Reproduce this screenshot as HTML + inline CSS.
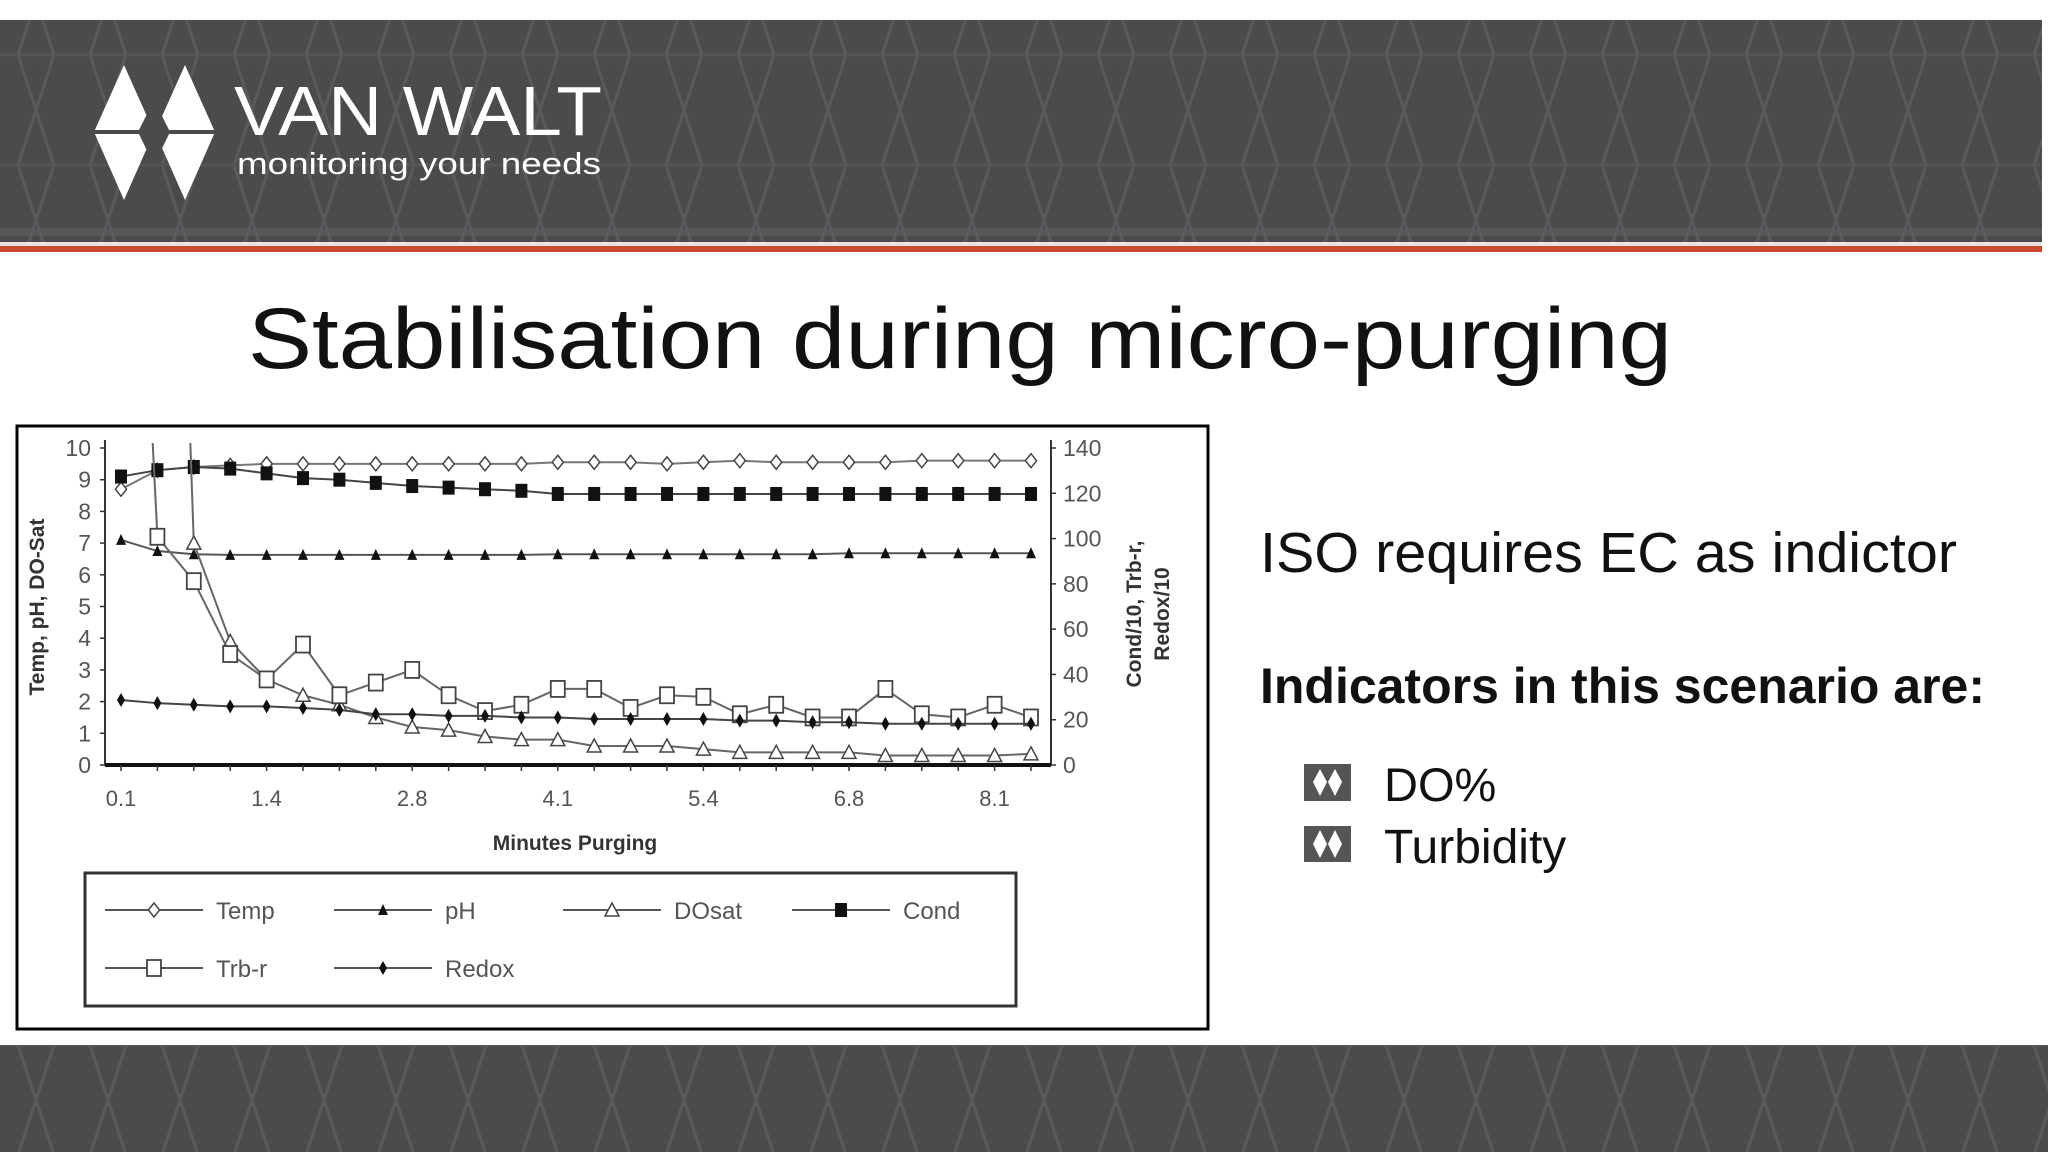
<!DOCTYPE html>
<html><head><meta charset="utf-8"><style>
html,body{margin:0;padding:0;background:#fff;}
svg{display:block;font-family:"Liberation Sans",sans-serif;}
</style></head><body>
<svg id="page" width="2048" height="1152" viewBox="0 0 2048 1152">
<defs>
<pattern id="pat" width="72" height="110" patternUnits="userSpaceOnUse">
<rect width="72" height="110" fill="#4b4a4d"/>
<path d="M36 0 L54 55 L36 110 L18 55 Z" fill="none" stroke="#5a595c" stroke-width="3"/>
<path d="M0 55 L72 55" stroke="#555457" stroke-width="3"/>
</pattern>
</defs>
<g>
<rect x="0" y="20" width="2042" height="225" fill="url(#pat)"/>
<rect x="0" y="228" width="2042" height="8" fill="#5b6262" opacity="0.6"/>
<rect x="0" y="242" width="2042" height="4" fill="#e9e2dc"/>
<rect x="0" y="246" width="2042" height="6" fill="#c94a2e"/>
</g>
<g>
<path d="M124 65 L154 132 L124 200 L94 132 Z" fill="#fff"/>
<path d="M185 65 L215 132 L185 200 L155 132 Z" fill="#fff"/>
<path d="M154 100 L170 132 L154 165 L138 132 Z" fill="#4b4a4d"/>
<rect x="94" y="130" width="121" height="4" fill="#4b4a4d"/>
<text x="234" y="135" font-size="70" fill="#fff" textLength="368" lengthAdjust="spacingAndGlyphs">VAN WALT</text>
<text x="237" y="174" font-size="31" fill="#fff" textLength="364" lengthAdjust="spacingAndGlyphs">monitoring your needs</text>
</g>
<rect x="0" y="1045" width="2048" height="107" fill="url(#pat)"/>
<text x="248" y="368" font-size="86" fill="#111" textLength="1424" lengthAdjust="spacingAndGlyphs">Stabilisation during micro-purging</text>

<rect x="17" y="426" width="1191" height="603" fill="#fff" stroke="#000" stroke-width="3"/>
<g id="chart"></g>

<text x="1260" y="572" font-size="57" fill="#111" textLength="697" lengthAdjust="spacingAndGlyphs">ISO requires EC as indictor</text>
<text x="1260" y="703" font-size="50" font-weight="bold" fill="#111" textLength="725" lengthAdjust="spacingAndGlyphs">Indicators in this scenario are:</text>
<g>
<rect x="1304" y="764" width="47" height="37" fill="#555"/>
<path d="M1320 769 L1327 782 L1320 796 L1313 782 Z M1335 769 L1342 782 L1335 796 L1328 782 Z" fill="#fff"/>
<text x="1384" y="801" font-size="47" fill="#111">DO%</text>
</g>
<g>
<rect x="1304" y="826" width="47" height="36" fill="#555"/>
<path d="M1320 830 L1327 844 L1320 858 L1313 844 Z M1335 830 L1342 844 L1335 858 L1328 844 Z" fill="#fff"/>
<text x="1384" y="863" font-size="48" fill="#111">Turbidity</text>
</g>
</svg>
<script>
const categories = [0.1,0.43,0.77,1.1,1.4,1.77,2.1,2.43,2.8,3.1,3.43,3.77,4.1,4.43,4.77,5.1,5.4,5.77,6.1,6.43,6.8,7.1,7.43,7.8,8.1,8.43];
const xTickLabels = ["0.1","1.4","2.8","4.1","5.4","6.8","8.1"];
const leftTicks = [0,1,2,3,4,5,6,7,8,9,10];
const rightTicks = [0,20,40,60,80,100,120,140];
// all values in left-axis units (right axis = left * 14)
const temp = [8.7,9.3,9.4,9.45,9.5,9.5,9.5,9.5,9.5,9.5,9.5,9.5,9.55,9.55,9.55,9.5,9.55,9.6,9.55,9.55,9.55,9.55,9.6,9.6,9.6,9.6];
const ph = [7.1,6.75,6.65,6.63,6.63,6.63,6.63,6.63,6.63,6.63,6.63,6.63,6.65,6.65,6.65,6.65,6.65,6.65,6.65,6.65,6.68,6.68,6.68,6.68,6.68,6.68];
const dosat = [null,40,7.0,3.9,2.7,2.2,1.9,1.5,1.2,1.1,0.9,0.8,0.8,0.6,0.6,0.6,0.5,0.4,0.4,0.4,0.4,0.3,0.3,0.3,0.3,0.35];
const cond = [9.1,9.3,9.4,9.35,9.2,9.05,9.0,8.9,8.8,8.75,8.7,8.65,8.55,8.55,8.55,8.55,8.55,8.55,8.55,8.55,8.55,8.55,8.55,8.55,8.55,8.55];
const trb = [30,7.2,5.8,3.5,2.7,3.8,2.2,2.6,3.0,2.2,1.7,1.9,2.4,2.4,1.8,2.2,2.15,1.6,1.9,1.5,1.5,2.4,1.6,1.5,1.9,1.5];
const redox = [2.05,1.95,1.9,1.85,1.85,1.8,1.74,1.6,1.6,1.55,1.55,1.5,1.5,1.45,1.45,1.45,1.45,1.4,1.4,1.35,1.35,1.3,1.3,1.3,1.3,1.3];

const NS="http://www.w3.org/2000/svg";
const g=document.getElementById('chart');
const X0=121, DX=36.4, Y0=765, Y10=448, AXL=105, AXR=1051;
const xs=i=>X0+i*DX;
const ys=v=>Y0-(v/10)*(Y0-Y10);
function mk(t,a,p){const e=document.createElementNS(NS,t);for(const k in a)e.setAttribute(k,a[k]);(p||g).appendChild(e);return e;}

const clip=mk('clipPath',{id:'pc'});mk('rect',{x:AXL,y:Y10-5,width:AXR-AXL,height:Y0-Y10+10},clip);

// axes
const la=mk('line',{x1:AXL,y1:Y10-8,x2:AXL,y2:Y0,stroke:'#333','stroke-width':2});


const ra=mk('line',{x1:AXR,y1:Y10-8,x2:AXR,y2:Y0,stroke:'#333','stroke-width':2});


const xa=mk('line',{x1:AXL,y1:Y0,x2:AXR,y2:Y0,stroke:'#111','stroke-width':4});


leftTicks.forEach(v=>{
  mk('line',{x1:AXL-5,y1:ys(v),x2:AXL,y2:ys(v),stroke:'#333','stroke-width':1.5});
  const t=mk('text',{x:AXL-14,y:ys(v)+8,'font-size':23,'text-anchor':'end',fill:'#555'});t.textContent=v;
  
  
});
rightTicks.forEach(v=>{
  const yy=ys(v/14);
  mk('line',{x1:AXR,y1:yy,x2:AXR+5,y2:yy,stroke:'#333','stroke-width':1.5});
  const t=mk('text',{x:AXR+12,y:yy+8,'font-size':23,fill:'#555'});t.textContent=v;
  
  
});
categories.forEach((c,i)=>{mk('line',{x1:xs(i),y1:Y0,x2:xs(i),y2:Y0+6,stroke:'#333','stroke-width':1.5});});
xTickLabels.forEach((lab,k)=>{
  const t=mk('text',{x:xs(k*4),y:806,'font-size':22,'text-anchor':'middle',fill:'#555'});t.textContent=lab;
  
  
});
let t=mk('text',{x:575,y:850,'font-size':21,'font-weight':'bold','text-anchor':'middle',fill:'#333'});t.textContent='Minutes Purging';


t=mk('text',{x:0,y:0,'font-size':21,'font-weight':'bold','text-anchor':'middle',fill:'#333',transform:'translate(44,607) rotate(-90)'});t.textContent='Temp, pH, DO-Sat';


t=mk('text',{x:0,y:0,'font-size':21,'font-weight':'bold','text-anchor':'middle',fill:'#333',transform:'translate(1141,614) rotate(-90)'});t.textContent='Cond/10, Trb-r,';


t=mk('text',{x:0,y:0,'font-size':21,'font-weight':'bold','text-anchor':'middle',fill:'#333',transform:'translate(1169,614) rotate(-90)'});t.textContent='Redox/10';



function marker(p,type,x,y){
  const s=7;
  if(type==='odiamond')return mk('path',{d:`M${x} ${y-s}L${x+s*0.8} ${y}L${x} ${y+s}L${x-s*0.8} ${y}Z`,fill:'#fff',stroke:'#444','stroke-width':1.5},p);
  if(type==='fdiamond')return mk('path',{d:`M${x} ${y-s}L${x+4} ${y}L${x} ${y+s}L${x-4} ${y}Z`,fill:'#111'},p);
  if(type==='ftri')return mk('path',{d:`M${x} ${y-6}L${x+5} ${y+5}L${x-5} ${y+5}Z`,fill:'#111'},p);
  if(type==='otri')return mk('path',{d:`M${x} ${y-7}L${x+7} ${y+6}L${x-7} ${y+6}Z`,fill:'#fff',stroke:'#444','stroke-width':1.5},p);
  if(type==='fsq')return mk('rect',{x:x-6,y:y-7,width:12,height:14,fill:'#111'},p);
  if(type==='osq')return mk('rect',{x:x-7,y:y-8,width:14,height:16,fill:'#fff',stroke:'#444','stroke-width':1.8},p);
}
const series=[
  {name:'temp',vals:temp,m:'odiamond',c:'#777'},
  {name:'cond',vals:cond,m:'fsq',c:'#444'},
  {name:'ph',vals:ph,m:'ftri',c:'#555'},
  {name:'dosat',vals:dosat,m:'otri',c:'#666'},
  {name:'trb-r',vals:trb,m:'osq',c:'#666'},
  {name:'redox',vals:redox,m:'fdiamond',c:'#444'}
];
series.forEach(s=>{
  const sg=mk('g',{'clip-path':'url(#pc)'});
  
  
  let d='';let started=false;
  s.vals.forEach((v,i)=>{if(v===null){started=false;return;}d+=(started?'L':'M')+xs(i)+' '+ys(v);started=true;});
  mk('path',{d:d,fill:'none',stroke:s.c,'stroke-width':2},sg);
  s.vals.forEach((v,i)=>{if(v===null||v>10.3)return;const m=marker(sg,s.m,xs(i),ys(v));
    
    });
});

// legend
const lg=mk('g',{});


mk('rect',{x:85,y:873,width:931,height:133,fill:'#fff',stroke:'#333','stroke-width':3},lg);
const legendNames=['Temp','pH','DOsat','Cond','Trb-r','Redox'];
const legendMarkers=['odiamond','ftri','otri','fsq','osq','fdiamond'];
legendNames.forEach((n,k)=>{
  const col=k<4?k:k-4, row=k<4?0:1;
  const lx=105+col*229, ly=row?968:910;
  const eg=mk('g',{},lg);
  
  
  mk('line',{x1:lx,y1:ly,x2:lx+98,y2:ly,stroke:'#555','stroke-width':2},eg);
  marker(eg,legendMarkers[k],lx+49,ly);
  const tt=mk('text',{x:lx+111,y:ly+9,'font-size':24,fill:'#555'},eg);tt.textContent=n;
});
</script>
</body></html>
